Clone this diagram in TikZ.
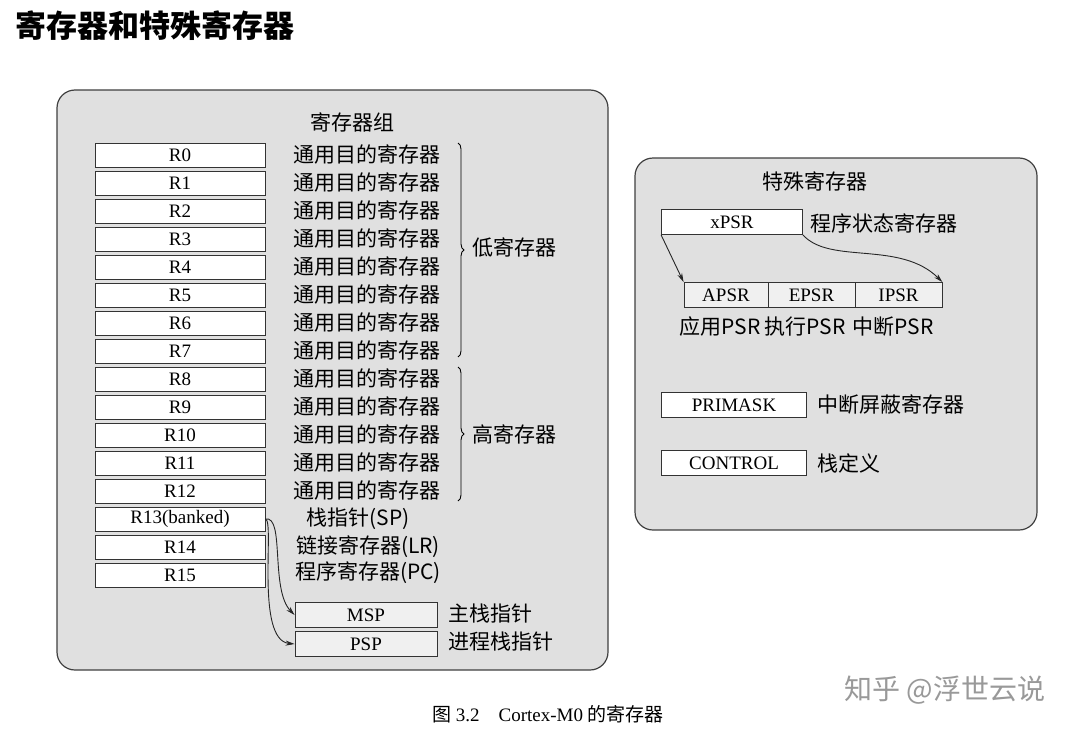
\documentclass[tikz,border=0pt]{standalone}
\usepackage{fontspec}
\setmainfont{Liberation Serif}
\newfontfamily\cjk{Noto Sans CJK SC}
\usetikzlibrary{decorations.pathreplacing,arrows.meta}
\begin{document}
\begin{tikzpicture}[x=1pt,y=-1pt,
  panel/.style={draw=black!75,line width=1.2pt,rounded corners=18pt,fill=black!12},
  reg/.style={draw=black!80,line width=0.8pt,fill=white,minimum width=170pt,minimum height=24pt,inner sep=0pt,font=\fontsize{19}{19}\selectfont},
  sreg/.style={draw=black!80,line width=0.8pt,fill=black!6,minimum height=25pt,inner sep=0pt,font=\fontsize{19}{19}\selectfont},
  lbl/.style={font=\cjk\fontsize{21}{21}\selectfont,inner sep=0pt},
  arr/.style={-{Stealth[length=9pt,width=5pt]},line width=0.9pt,black!85}]
\useasboundingbox (0,0) rectangle (1092,736);
\fill[white] (0,0) rectangle (1092,736);
\node[anchor=west,font=\cjk\bfseries\fontsize{31}{31}\selectfont] (title) at (12,26) {寄存器和特殊寄存器};
\draw[panel] (57,90) rectangle (608,670);
\draw[panel] (635,158) rectangle (1037,530);
\node[lbl] (grp) at (352,122) {寄存器组};
\foreach \i in {0,...,15}{
  \pgfmathsetmacro{\yy}{155+28*\i}
  \ifnum\i=13
    \node[reg] (r\i) at (180,\yy) {R13(banked)};
  \else
    \node[reg] (r\i) at (180,\yy) {R\i};
  \fi
  \ifnum\i<13
    \node[lbl] (g\i) at (367,\yy) {通用目的寄存器};
  \fi
}
\node[lbl] (sp) at (358,519) {栈指针(SP)};
\node[lbl] (lr) at (368,547) {链接寄存器(LR)};
\node[lbl] (pc) at (368,573) {程序寄存器(PC)};
\draw[decorate,decoration={brace,amplitude=6pt},line width=0.9pt] (458,143) -- (458,357);
\node[lbl,anchor=west] (low) at (472,247) {低寄存器};
\draw[decorate,decoration={brace,amplitude=6pt},line width=0.9pt] (458,367) -- (458,501);
\node[lbl,anchor=west] (high) at (472,434) {高寄存器};
\node[sreg,minimum width=142pt] (msp) at (366,615) {MSP};
\node[sreg,minimum width=142pt] (psp) at (366,644) {PSP};
\node[lbl,anchor=west] (mspl) at (448,614) {主栈指针};
\node[lbl,anchor=west] (pspl) at (448,642) {进程栈指针};
\draw[arr] (r13.east) .. controls (285,515) and (270,590) .. (msp.west);
\draw[arr] (r13.east) .. controls (275,520) and (255,640) .. (psp.west);
% right panel
\node[lbl] (spec) at (815,182) {特殊寄存器};
\node[reg,minimum width=141pt,minimum height=25pt] (xpsr) at (732,222) {xPSR};
\node[lbl,anchor=west] (xpl) at (810,223) {程序状态寄存器};
\node[sreg,minimum width=84pt] (apsr) at (726,295) {APSR};
\node[sreg,minimum width=87pt] (epsr) at (811.5,295) {EPSR};
\node[sreg,minimum width=87pt] (ipsr) at (898.5,295) {IPSR};
\node[lbl] (al) at (720,327) {应用PSR};
\node[lbl] (el) at (805,327) {执行PSR};
\node[lbl] (il) at (893,327) {中断PSR};
\draw[arr] (xpsr.south west) -- (apsr.north west);
\draw[arr] (xpsr.south east) .. controls (830,265) and (900,240) .. (ipsr.north east);
\node[reg,minimum width=145pt,minimum height=25pt] (prim) at (734,405) {PRIMASK};
\node[lbl,anchor=west] (priml) at (817,405) {中断屏蔽寄存器};
\node[reg,minimum width=145pt,minimum height=25pt] (ctrl) at (734,463) {CONTROL};
\node[lbl,anchor=west] (ctrll) at (817,463) {栈定义};
\node[font=\fontsize{19}{19}\selectfont] (cap) at (548,714) {{\cjk 图}\ 3.2\quad Cortex-M0 {\cjk 的寄存器}};
\node[font=\cjk\fontsize{28}{28}\selectfont,text=black!40] (wm) at (945,690) {知乎 @浮世云说};
\end{tikzpicture}
\end{document}
